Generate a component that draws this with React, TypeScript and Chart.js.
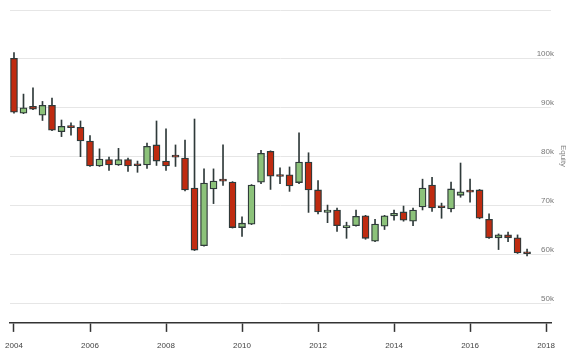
import React, { useEffect, useRef } from "react";
import { Chart, registerables } from "chart.js";

Chart.register(...registerables);

// Quarter start dates (decimal years)
const dates = [
  2004.0, 2004.25, 2004.5, 2004.75,
  2005.0, 2005.25, 2005.5, 2005.75,
  2006.0, 2006.25, 2006.5, 2006.75,
  2007.0, 2007.25, 2007.5, 2007.75,
  2008.0, 2008.25, 2008.5, 2008.75,
  2009.0, 2009.25, 2009.5, 2009.75,
  2010.0, 2010.25, 2010.5, 2010.75,
  2011.0, 2011.25, 2011.5, 2011.75,
  2012.0, 2012.25, 2012.5, 2012.75,
  2013.0, 2013.25, 2013.5, 2013.75,
  2014.0, 2014.25, 2014.5, 2014.75,
  2015.0, 2015.25, 2015.5, 2015.75,
  2016.0, 2016.25, 2016.5, 2016.75,
  2017.0, 2017.25, 2017.5,
];

// Equity in thousands
const openK = [
  100.1, 88.9, 90.3, 88.5, 90.5, 85.1, 86.05, 86.0, 83.2, 78.1,
  79.4, 78.3, 79.4, 78.3, 78.3, 82.4, 79.1, 80.3, 79.7, 73.6,
  61.8, 73.4, 75.2, 74.8, 65.5, 66.2, 74.8, 81.1, 76.05, 76.3,
  74.7, 78.9, 73.2, 68.6, 69.1, 65.5, 65.9, 67.9, 62.7, 65.8,
  67.9, 68.7, 66.8, 69.7, 74.2, 69.65, 69.3, 72.1, 72.85, 73.2,
  67.2, 63.4, 64.0, 63.4, 60.25,
];
const highK = [
  101.3, 92.8, 94.1, 91.3, 92.0, 87.5, 86.9, 87.3, 84.3, 81.6,
  79.9, 81.7, 79.7, 79.1, 82.8, 87.3, 85.7, 82.4, 83.4, 87.7,
  77.5, 77.5, 82.4, 74.9, 67.7, 74.3, 81.3, 81.2, 77.7, 77.9,
  84.9, 80.8, 75.1, 70.1, 69.5, 66.6, 69.1, 68.0, 67.2, 68.0,
  69.1, 69.9, 69.5, 75.4, 75.8, 70.5, 74.8, 78.7, 75.4, 73.3,
  68.3, 64.2, 64.6, 64.0, 61.1,
];
const lowK = [
  88.9, 88.8, 89.6, 87.4, 85.3, 84.1, 84.4, 80.0, 78.0, 78.0,
  77.2, 78.2, 77.0, 76.8, 77.6, 78.2, 77.2, 78.0, 73.0, 60.8,
  61.7, 70.4, 74.1, 65.4, 63.7, 66.1, 74.5, 73.3, 74.5, 72.9,
  74.5, 68.6, 68.3, 66.5, 64.7, 63.3, 65.8, 63.1, 62.6, 65.1,
  67.0, 66.8, 65.9, 69.1, 68.8, 67.4, 68.7, 71.7, 70.7, 67.3,
  63.3, 61.0, 62.6, 60.2, 59.7,
];
const closeK = [
  89.1, 90.0, 89.7, 90.5, 85.4, 86.2, 85.95, 83.2, 78.1, 79.5,
  78.3, 79.4, 78.1, 78.15, 82.1, 79.1, 78.1, 79.9, 73.2, 60.9,
  74.6, 75.0, 75.0, 65.5, 66.4, 74.2, 80.7, 76.0, 75.95, 74.0,
  78.9, 73.2, 68.7, 69.1, 65.9, 65.9, 67.8, 63.3, 66.2, 67.9,
  68.4, 67.0, 69.1, 73.6, 69.5, 69.55, 73.4, 72.8, 72.75, 67.4,
  63.4, 64.0, 63.4, 60.3, 60.15,
];

const xTickYears = [2004, 2006, 2008, 2010, 2012, 2014, 2016, 2018];
const yTickValuesK = [50, 60, 70, 80, 90, 100];

const UP = "#8cc27a";
const DOWN = "#bf2b10";
const EDGE = "#2f3a3a";

const axisTitlePlugin = {
  id: "equityTitle",
  afterDraw(chart: any) {
    const { ctx } = chart;
    ctx.save();
    ctx.translate(563, 156);
    ctx.rotate(Math.PI / 2);
    ctx.font = "8px 'Liberation Sans', Arial, sans-serif";
    ctx.fillStyle = "#888";
    ctx.textAlign = "center";
    ctx.textBaseline = "middle";
    ctx.fillText("Equity", 0, 0);
    ctx.restore();
  },
};

export default function App() {
  const ref = useRef<HTMLCanvasElement>(null);

  useEffect(() => {
    const bodies = dates.map((d, i) => ({ x: d, y: [openK[i], closeK[i]] }));
    const wicks = dates.map((d, i) => ({ x: d, y: [lowK[i], highK[i]] }));
    const colors = dates.map((_, i) => (closeK[i] >= openK[i] ? UP : DOWN));

    const chart = new Chart(ref.current as HTMLCanvasElement, {
      type: "bar",
      data: {
        datasets: [
          {
            label: "body",
            data: bodies as any,
            backgroundColor: colors,
            borderColor: EDGE,
            borderWidth: 1.3,
            borderSkipped: false,
            barThickness: 7,
            minBarLength: 2,
            grouped: false,
            order: 0,
          } as any,
          {
            label: "wick",
            data: wicks as any,
            backgroundColor: EDGE,
            borderWidth: 0,
            barThickness: 1,
            grouped: false,
            order: 1,
          } as any,
        ],
      },
      options: {
        responsive: false,
        animation: false,
        events: [],
        layout: { autoPadding: false, padding: { left: 10, top: 10, right: 23, bottom: 0.5 } },
        plugins: { legend: { display: false }, tooltip: { enabled: false } },
        scales: {
          x: {
            type: "linear",
            position: "bottom",
            min: 2003.895,
            max: 2018.13,
            offset: false,
            grid: {
              offset: false,
              drawOnChartArea: false,
              drawTicks: true,
              tickLength: 9,
              tickWidth: 1.5,
              tickColor: "#333",
            },
            border: { display: true, color: "#333", width: 1.5 },
            afterBuildTicks: (scale: any) => {
              scale.ticks = xTickYears.map((v) => ({ value: v }));
            },
            afterFit: (scale: any) => {
              scale.paddingLeft = 0;
              scale.paddingRight = 0;
            },
            ticks: {
              font: { family: "'Liberation Sans', Arial, sans-serif", size: 8 },
              color: "#444",
              padding: 9,
              maxRotation: 0,
              autoSkip: false,
              callback: (v: any) => String(v),
            },
          },
          y: {
            type: "linear",
            position: "right",
            min: 46,
            max: 110,
            grid: { color: "#e6e6e6", lineWidth: 1, drawTicks: false },
            border: { display: false },
            afterBuildTicks: (scale: any) => {
              scale.ticks = [...yTickValuesK, 110].map((v) => ({ value: v }));
            },
            ticks: {
              mirror: true,
              padding: 3,
              labelOffset: -5,
              font: { family: "'Liberation Sans', Arial, sans-serif", size: 8 },
              color: "#777",
              autoSkip: false,
              callback: (v: any) => (yTickValuesK.includes(v) ? v + "k" : ""),
            },
          },
        },
      },
      plugins: [axisTitlePlugin],
    });
    return () => chart.destroy();
  }, []);

  return (
    <div style={{ position: "fixed", left: 0, top: 0, width: 580, height: 360, background: "#fff" }}>
      <canvas ref={ref} width={580} height={360} style={{ display: "block" }} />
    </div>
  );
}
